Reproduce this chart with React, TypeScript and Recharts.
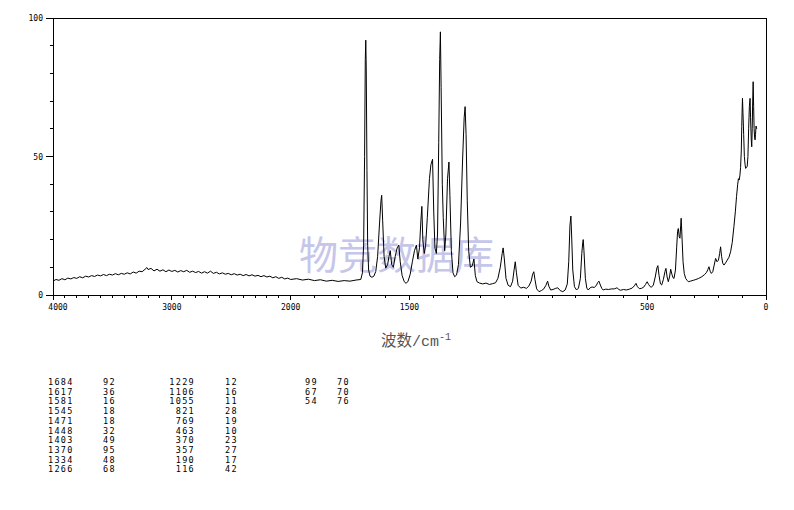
import React from 'react';
import { LineChart, Line, XAxis, YAxis, ReferenceArea } from 'recharts';

// 4000-2000 cm-1, every ~25 cm-1 (noisy baseline)
const highRegion: [number, number][] = [
  [4000, 5.0], [3975, 5.6], [3950, 5.3], [3925, 5.9], [3900, 5.5], [3875, 6.1], [3850, 5.8], [3825, 6.3],
  [3800, 6.0], [3775, 6.6], [3750, 6.2], [3725, 6.8], [3700, 6.5], [3675, 7.0], [3650, 6.7], [3625, 7.2],
  [3600, 6.9], [3575, 7.4], [3550, 7.0], [3525, 7.5], [3500, 7.2], [3475, 7.7], [3450, 7.3], [3425, 7.8],
  [3400, 7.5], [3375, 8.0], [3350, 7.6], [3325, 8.3], [3300, 7.9], [3275, 8.6], [3250, 8.4], [3225, 9.3],
  [3210, 9.9], [3200, 9.2], [3175, 9.6], [3150, 8.7], [3125, 9.3], [3100, 8.6], [3075, 9.1], [3050, 8.4],
  [3025, 9.0], [3000, 8.5], [2975, 8.9], [2950, 8.3], [2925, 8.8], [2900, 8.4], [2875, 8.9], [2850, 8.2],
  [2825, 8.6], [2800, 8.1], [2775, 8.5], [2750, 7.9], [2725, 8.4], [2700, 7.9], [2675, 8.6], [2650, 7.8],
  [2625, 8.2], [2600, 7.6], [2575, 8.0], [2550, 7.5], [2525, 7.8], [2500, 7.3], [2475, 7.7], [2450, 7.2],
  [2425, 7.5], [2400, 7.0], [2375, 7.4], [2350, 6.9], [2325, 7.3], [2300, 6.8], [2275, 7.1], [2250, 6.6],
  [2225, 7.0], [2200, 6.5], [2175, 6.8], [2150, 6.2], [2125, 6.6], [2100, 6.0], [2075, 6.4], [2050, 5.8],
  [2025, 6.1], [2000, 5.6],
];

// 2000-39 cm-1, peaks and valleys
const fingerprintRegion: [number, number][] = [
  [1975, 5.9], [1950, 5.4], [1925, 5.7], [1900, 5.2], [1875, 5.5], [1850, 5.0], [1825, 5.3], [1800, 4.9],
  [1775, 5.2], [1750, 5.0], [1725, 5.4], [1705, 5.6],
  [1698, 8], [1693, 18], [1689, 50], [1686, 85], [1684, 92], [1682, 82], [1679, 45], [1676, 18], [1672, 9],
  [1666, 6.8], [1658, 6.4], [1650, 6.8], [1642, 8.5], [1634, 14], [1626, 26], [1620, 34], [1617, 36],
  [1613, 27], [1607, 14], [1600, 9.7], [1592, 11], [1586, 14], [1581, 16], [1575, 11], [1568, 10],
  [1560, 14], [1552, 17], [1545, 18], [1539, 12], [1531, 7], [1522, 4.8], [1514, 4.2], [1506, 5],
  [1497, 7.5], [1488, 12], [1479, 16], [1471, 18], [1465, 13], [1458, 17], [1452, 27], [1448, 32],
  [1444, 20], [1438, 15], [1432, 18], [1425, 28], [1416, 42], [1410, 47], [1403, 49], [1398, 30],
  [1393, 17], [1387, 15], [1382, 22], [1377, 55], [1373, 85], [1370, 95], [1367, 75], [1362, 40],
  [1358, 28], [1352, 16], [1347, 22], [1340, 42], [1334, 48], [1330, 36], [1324, 16], [1317, 8],
  [1310, 6.6], [1302, 7.2], [1294, 11], [1285, 26], [1277, 48], [1270, 64], [1266, 68], [1262, 58],
  [1257, 34], [1251, 16], [1244, 10], [1236, 10.5], [1229, 13], [1223, 7], [1216, 4.8], [1205, 4.3],
  [1192, 4.0], [1178, 4.3], [1164, 3.8], [1150, 4.1], [1138, 4.4], [1128, 6], [1118, 10], [1110, 15],
  [1106, 17], [1101, 13], [1094, 6], [1085, 3.5], [1075, 3.0], [1066, 5], [1060, 9], [1055, 12],
  [1050, 8], [1043, 3.5], [1032, 2.5], [1020, 2.8], [1008, 2.4], [998, 3.2], [988, 5], [982, 7.5],
  [977, 8.4], [972, 5.5], [965, 2.2], [955, 1.2], [945, 1.6], [935, 2.2], [926, 3.5], [919, 5],
  [913, 3], [906, 1.8], [896, 2], [885, 2.4], [876, 2.6], [866, 1.6], [855, 1.2], [845, 1.8],
  [836, 4], [830, 12], [825, 25], [821, 28.5], [818, 22], [813, 9], [806, 3], [797, 1.8],
  [789, 2.5], [781, 6], [775, 15], [771, 19], [769, 20], [766, 16], [760, 6], [754, 2.5],
  [748, 1.8], [740, 2.6], [732, 2.9], [722, 2.7], [713, 3.6], [708, 4.5], [703, 5], [697, 3.6],
  [691, 2.4], [685, 1.8], [675, 2.1], [662, 2], [650, 2.2], [638, 2.2], [630, 2.5], [626, 2.6],
  [620, 2], [612, 1.7], [600, 2], [588, 1.8], [575, 2.1], [563, 2.5], [554, 3.3], [547, 4.2],
  [541, 3], [533, 2.3], [524, 2.4], [515, 2.8], [507, 3.8], [500, 4.8], [494, 3.8], [487, 3],
  [482, 2.8], [474, 3.6], [466, 6.5], [459, 9.8], [455, 10.6], [450, 7], [444, 4], [439, 3.6],
  [432, 5.5], [425, 8.5], [421, 9.6], [416, 6.5], [411, 4.8], [406, 6.5], [401, 9.3], [396, 7.5],
  [391, 6.2], [387, 6], [381, 9], [376, 17], [372, 23], [369, 24], [365, 21], [362, 20.5],
  [359, 25], [357, 27.7], [354, 22], [349, 12], [344, 7.8], [338, 6], [331, 5.2], [327, 4.8],
  [318, 5], [306, 5.3], [295, 5.6], [283, 6], [270, 6.6], [258, 7.4], [250, 8.2], [244, 9.3],
  [240, 10.2], [235, 8.6], [230, 7.8], [224, 8.4], [218, 10.8], [212, 13.2], [206, 12], [200, 12.6],
  [195, 15], [191, 17.4], [187, 14], [182, 11.5], [177, 10.8], [170, 11.6], [163, 12.6], [156, 13.6],
  [149, 15.6], [142, 19], [135, 24.7], [129, 30], [124, 35.5], [119, 40], [116, 42], [113, 41.5],
  [110, 43], [107, 46], [104, 52], [102, 60.8], [100, 68], [99, 71], [97, 66], [94, 58],
  [91, 50], [88, 47], [85.6, 45.7], [82, 46], [79, 46.5], [76, 50], [73, 60], [70, 68],
  [67, 71], [65, 64], [62, 56], [60, 53.5], [58, 60], [56, 70], [54, 77], [52, 68],
  [50, 60], [48, 57], [46, 56], [44, 58], [42, 61], [39, 60],
];

// peak table
const peakWavenumbers = [1684, 1617, 1581, 1545, 1471, 1448, 1403, 1370, 1334, 1266, 1229, 1106, 1055, 821, 769, 463, 370, 357, 190, 116, 99, 67, 54];
const peakIntensities = [92, 36, 16, 18, 18, 32, 49, 95, 48, 68, 12, 16, 11, 28, 19, 10, 23, 27, 17, 42, 70, 70, 76];

const xTickLabels = [4000, 3000, 2000, 1500, 500, 0];
const yTickLabels = [0, 50, 100];

// x axis is drawn at half scale above 2000 cm-1
const toAxis = (w: number) => (w <= 2000 ? w : 2000 + (w - 2000) / 2);
const fromAxis = (u: number) => (u <= 2000 ? u : 2000 + (u - 2000) * 2);

const data = [...highRegion, ...fingerprintRegion].map(([w, v]) => ({ u: toAxis(w), v }));

const xTicks = Array.from({ length: 41 }, (_, i) => toAxis(i * 100));
const yTicks = Array.from({ length: 11 }, (_, i) => i * 10);

const tickFont = { fontFamily: '"DejaVu Sans Mono", monospace', fontSize: 8, fill: '#000' };

// eslint-disable-next-line @typescript-eslint/no-explicit-any
function XTick(props: any) {
  const { x, y, payload } = props;
  const w = Math.round(fromAxis(payload.value));
  const labelled = xTickLabels.includes(w);
  return (
    <g>
      <line x1={x} x2={x} y1={y} y2={y + (labelled ? 5 : 3)} stroke="#000" shapeRendering="crispEdges" />
      {labelled && (
        <text x={w === 4000 ? x + 5 : x} y={y + 14.5} textAnchor="middle" {...tickFont}>
          {w}
        </text>
      )}
    </g>
  );
}

// eslint-disable-next-line @typescript-eslint/no-explicit-any
function YTick(props: any) {
  const { x, y, payload } = props;
  const labelled = yTickLabels.includes(payload.value);
  return (
    <g>
      <line x1={x - (labelled ? 7 : 3)} x2={x} y1={y} y2={y} stroke="#000" shapeRendering="crispEdges" />
      {labelled && (
        <text x={x - 10} y={y + 3} textAnchor="end" {...tickFont}>
          {payload.value}
        </text>
      )}
    </g>
  );
}

const tableFont = { fontFamily: '"DejaVu Sans Mono", monospace', fontSize: 8.5, letterSpacing: 1.3, fill: '#000' };

// column positions of the three table blocks
const tableBlocks = [
  { start: 0, wx: 48, anchor: 'start', ix: 103 },
  { start: 10, wx: 195, anchor: 'end', ix: 225 },
  { start: 20, wx: 305, anchor: 'start', ix: 337 },
];

export default function App() {
  return (
    <div style={{ position: 'absolute', left: 0, top: 0, width: 794, height: 510, background: '#fff', overflow: 'hidden' }}>
      <div
        style={{
          position: 'absolute', left: 299, top: 233, fontSize: 39, lineHeight: '39px',
          fontFamily: '"Noto Sans CJK SC", sans-serif', color: '#c6c6ea', whiteSpace: 'nowrap',
        }}
      >
        物竞数据库
      </div>
      <div style={{ position: 'absolute', left: 0, top: 0 }}>
        <LineChart width={794} height={320} data={data} margin={{ top: 18, right: 28, left: 0, bottom: 0 }}>
          <XAxis
            dataKey="u"
            type="number"
            domain={[0, 3000]}
            reversed
            allowDataOverflow
            ticks={xTicks}
            interval={0}
            tickSize={0}
            tickMargin={0}
            tickLine={false}
            tick={<XTick />}
            axisLine={{ stroke: '#000', shapeRendering: 'crispEdges' }}
            height={25}
          />
          <YAxis
            type="number"
            domain={[0, 100]}
            allowDataOverflow
            ticks={yTicks}
            interval={0}
            tickSize={0}
            tickMargin={0}
            tickLine={false}
            tick={<YTick />}
            axisLine={{ stroke: '#000', shapeRendering: 'crispEdges' }}
            width={53}
          />
          <ReferenceArea x1={0} x2={3000} y1={0} y2={100} fill="none" stroke="#000" strokeWidth={1} shapeRendering="crispEdges" />
          <Line type="linear" dataKey="v" stroke="#000" strokeWidth={1} dot={false} isAnimationActive={false} />
        </LineChart>
      </div>
      <svg width={794} height={510} style={{ position: 'absolute', left: 0, top: 0, pointerEvents: 'none' }}>
        <text x={381} y={346} fill="#555">
          <tspan fontFamily='"Noto Sans CJK SC", sans-serif' fontSize={15.5}>波数</tspan>
          <tspan fontFamily='"Liberation Mono", monospace' fontSize={15}>/cm</tspan>
          <tspan fontFamily='"Liberation Mono", monospace' fontSize={10} dy={-6}>-1</tspan>
        </text>
        {tableBlocks.map((b) =>
          peakWavenumbers.slice(b.start, b.start + 10).map((w, i) => (
            <g key={`${b.start}-${i}`}>
              <text x={b.wx} y={385 + i * 9.7} textAnchor={b.anchor as 'start' | 'end'} {...tableFont}>
                {w}
              </text>
              <text x={b.ix} y={385 + i * 9.7} {...tableFont}>
                {peakIntensities[b.start + i]}
              </text>
            </g>
          )),
        )}
      </svg>
    </div>
  );
}
